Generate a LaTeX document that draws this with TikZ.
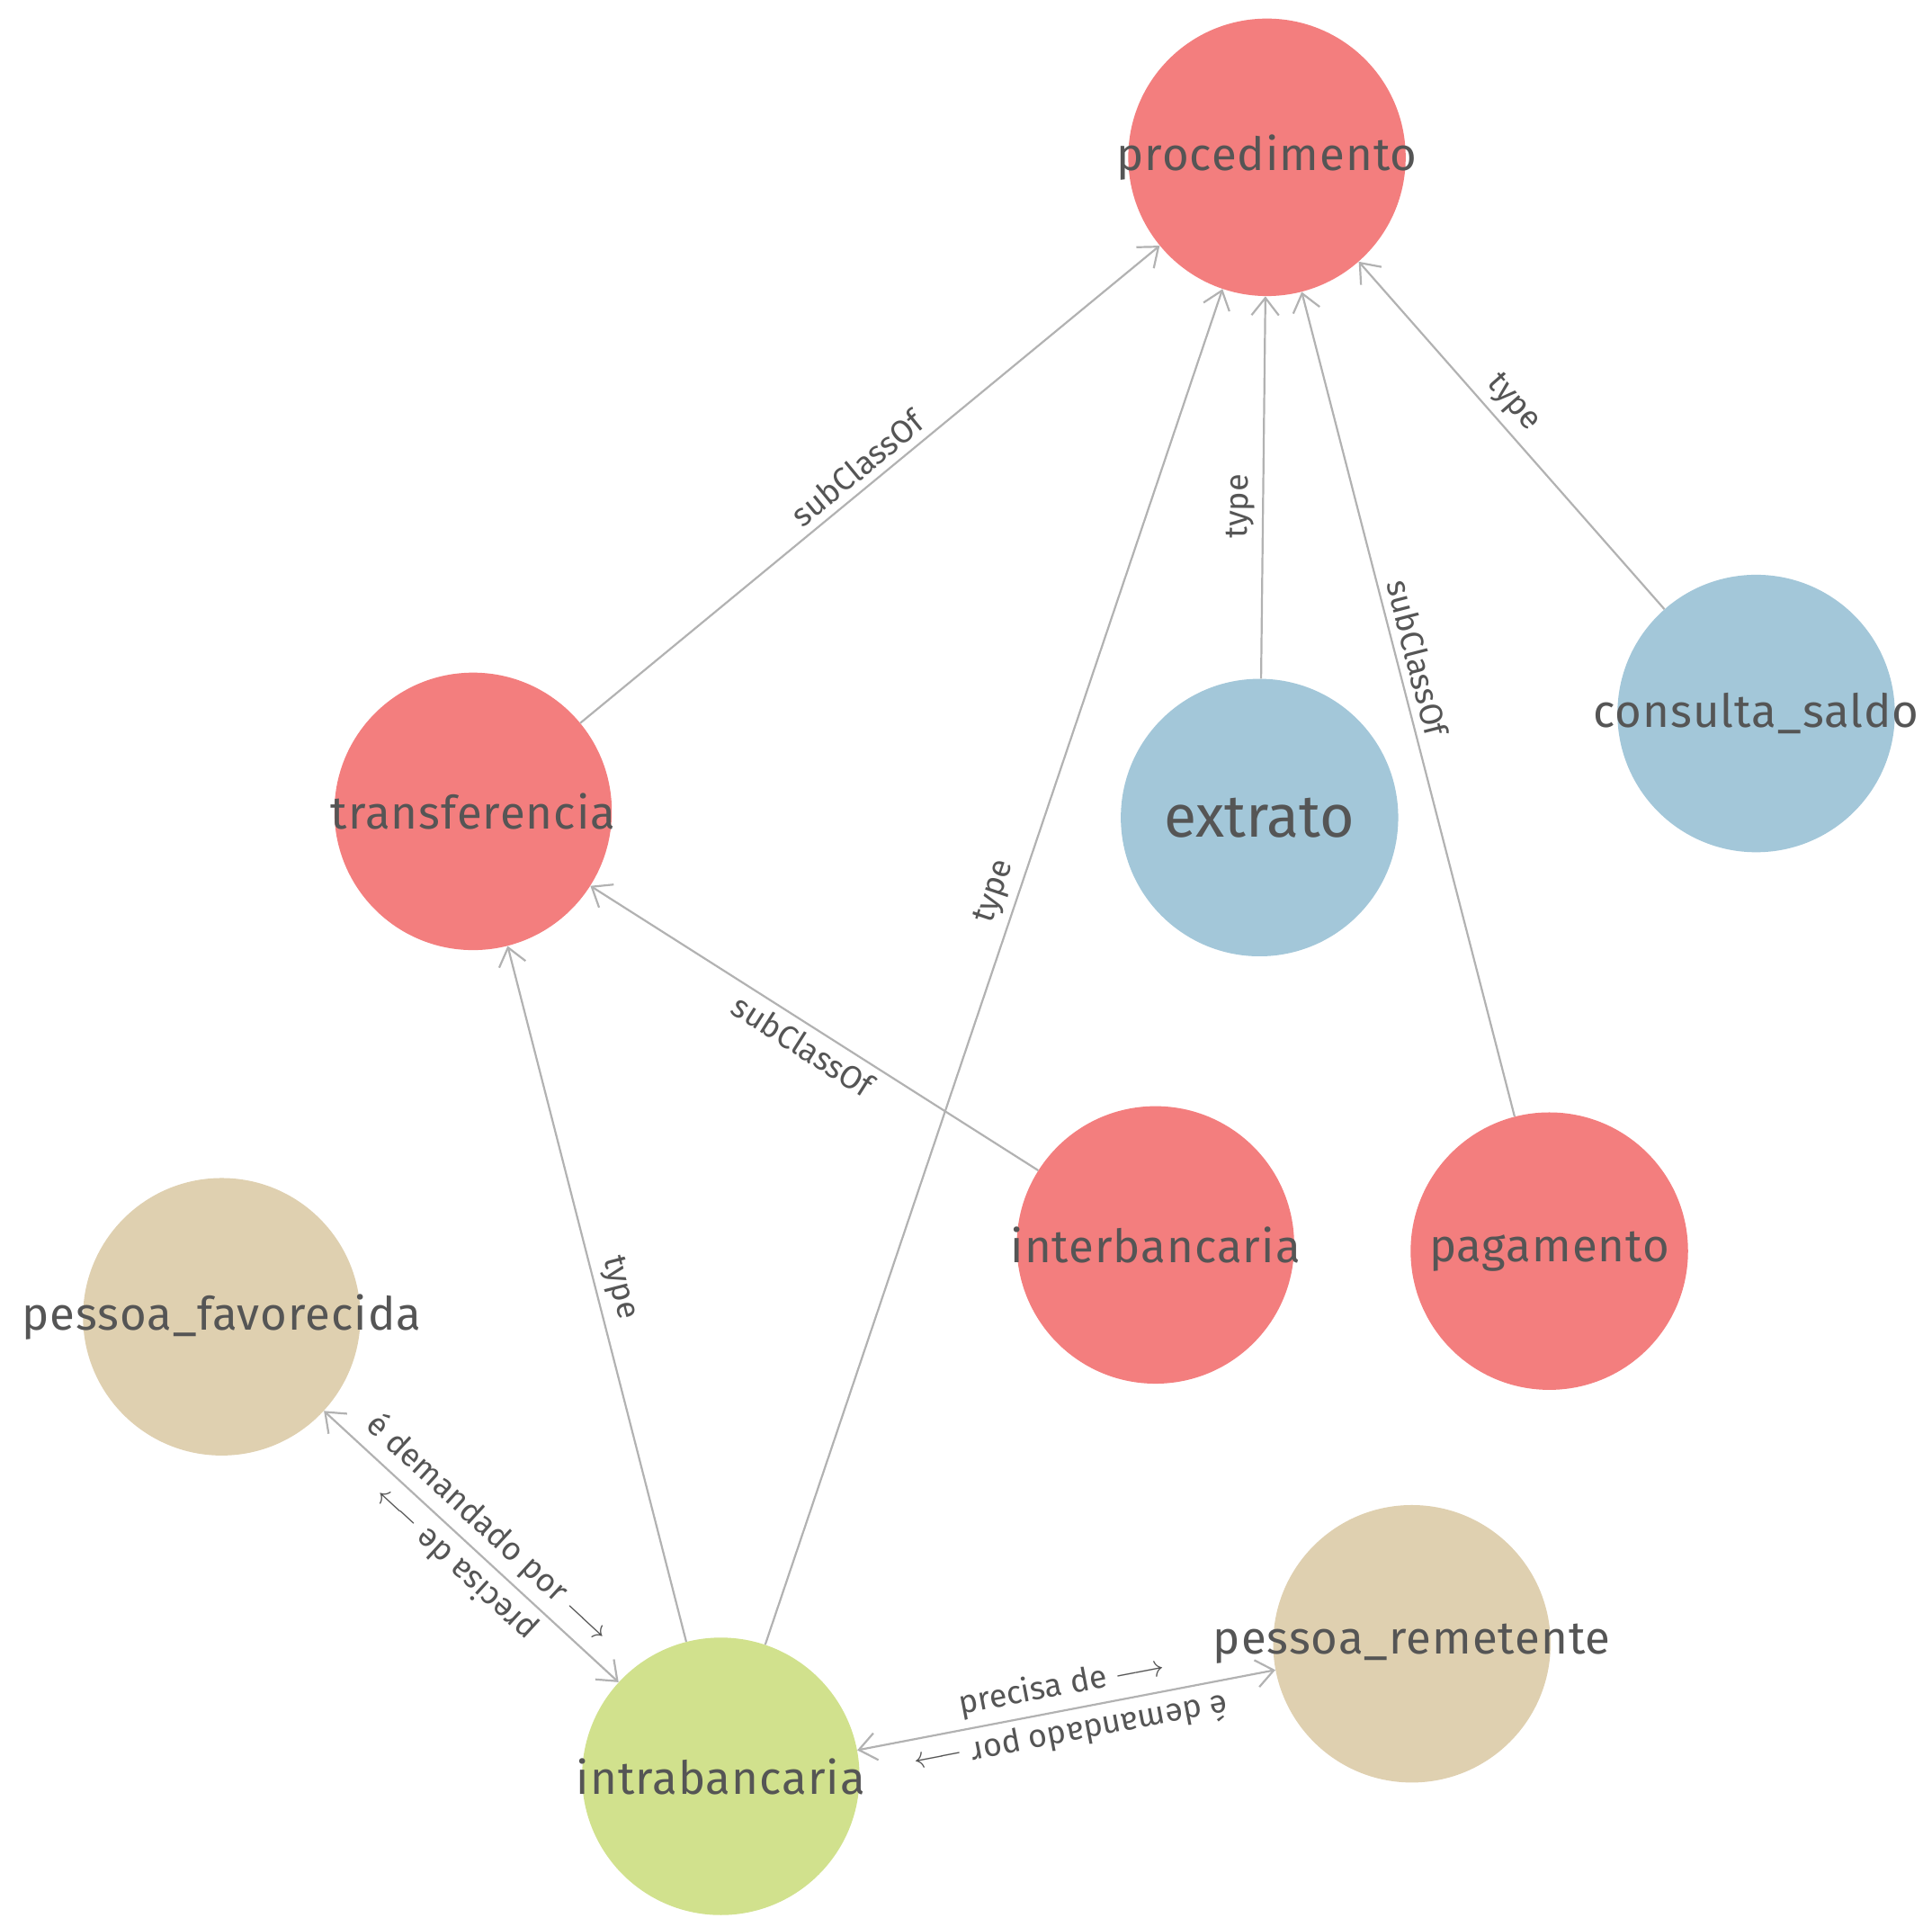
\documentclass[tikz,border=0pt]{standalone}
\usepackage{fontspec}
\setmainfont{Fira Sans}
\usetikzlibrary{arrows.meta}
\definecolor{cred}{HTML}{F37E7E}
\definecolor{cblue}{HTML}{A3C7D9}
\definecolor{ctan}{HTML}{DFD0B0}
\definecolor{cgreen}{HTML}{D1E18D}
\definecolor{ctext}{HTML}{555555}
\tikzset{
  cnode/.style={circle,minimum size=224pt,inner sep=0pt},
  ntext/.style={text=ctext,font=\fontsize{37}{43}\selectfont\addfontfeatures{LetterSpace=2}},
  edge/.style={draw=black!30,line width=1.6pt,-{Straight Barb[length=14pt,width=22pt]}},
  bedge/.style={draw=black!30,line width=1.6pt,{Straight Barb[length=14pt,width=22pt]}-{Straight Barb[length=14pt,width=22pt]}},
  elab/.style={sloped,text=ctext,font=\fontsize{26}{31}\selectfont,inner sep=6pt}
}
\begin{document}
\begin{tikzpicture}[x=1pt,y=-1pt]
\useasboundingbox (0,0) rectangle (1560,1555);
\node[cnode,fill=cred] (proc) at (1023,127) {};
\node[cnode,fill=cred] (trans) at (382,655) {};
\node[cnode,fill=cblue] (extr) at (1017,660) {};
\node[cnode,fill=cblue] (cons) at (1418,576) {};
\node[cnode,fill=cred] (inter) at (933,1005) {};
\node[cnode,fill=cred] (pag) at (1251,1010) {};
\node[cnode,fill=ctan] (fav) at (179,1063) {};
\node[cnode,fill=ctan] (rem) at (1140,1327) {};
\node[cnode,fill=cgreen] (intra) at (582,1434) {};
\node[ntext] (procT) at (proc) {procedimento};
\node[ntext] (transT) at (trans) {transferencia};
\node[text=ctext,font=\fontsize{48}{54}\selectfont] (extrT) at (extr) {extrato};
\node[ntext] (consT) at (cons) {consulta\_saldo};
\node[ntext] (interT) at (inter) {interbancaria};
\node[ntext] (pagT) at (pag) {pagamento};
\node[ntext] (favT) at (fav) {pessoa\_favorecida};
\node[ntext] (remT) at (rem) {pessoa\_remetente};
\node[ntext] (intraT) at (intra) {intrabancaria};

\draw[edge] (trans) -- node[elab,above] {subClassOf} (proc);
\draw[edge] (intra) -- node[elab,above,pos=0.55] {type} (proc);
\draw[edge] (extr) -- node[elab,above,pos=0.45] {type} (proc);
\draw[edge] (pag) -- node[elab,above,pos=0.55] {subClassOf} (proc);
\draw[edge] (cons) -- node[elab,above,pos=0.55] {type} (proc);
\draw[edge] (inter) -- node[elab,below] {subClassOf} (trans);
\draw[edge] (intra) -- node[elab,above] {type} (trans);
\draw[bedge] (fav) -- node[elab,above] {é demandado por $\longrightarrow$} (intra);
\path (intra) -- node[elab,above,allow upside down] {precisa de $\longrightarrow$} (fav);
\draw[bedge] (intra) -- node[elab,above] {precisa de $\longrightarrow$} (rem);
\path (rem) -- node[elab,above,allow upside down] {é demandado por $\longrightarrow$} (intra);
\end{tikzpicture}
\end{document}
